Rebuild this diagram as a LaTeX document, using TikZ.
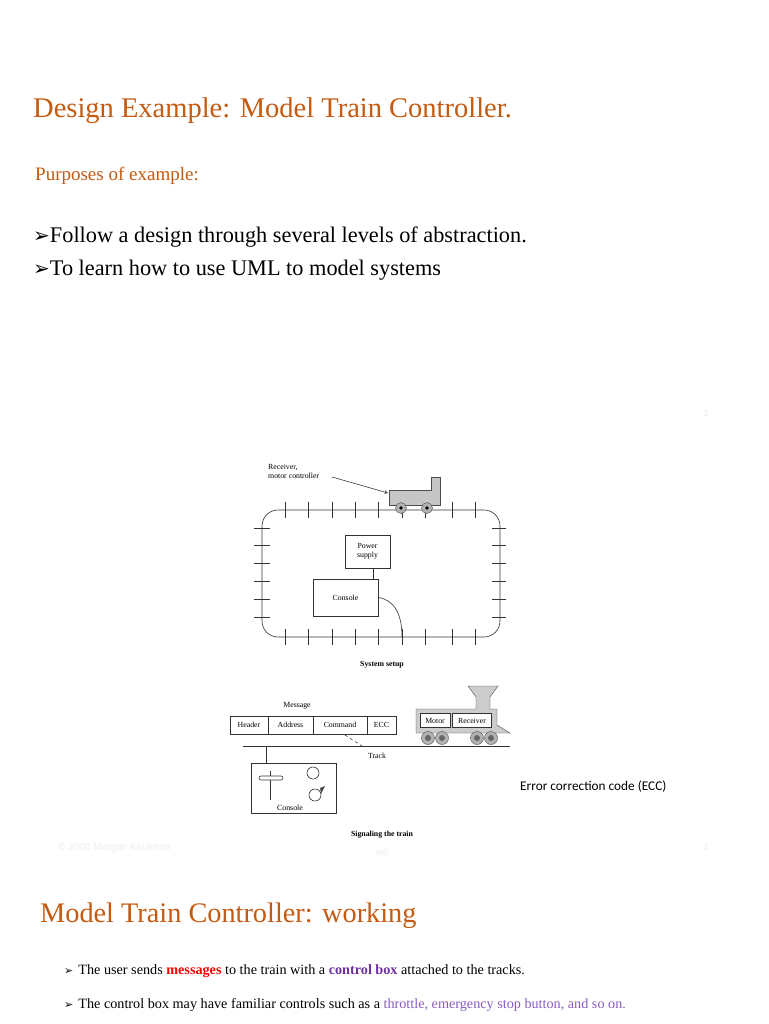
\documentclass[tikz,border=0pt]{standalone}
\usepackage{fontspec}
\setmainfont{Liberation Serif}
\newfontfamily\djv{DejaVu Sans}
\newfontfamily\carl{Carlito}
\newfontfamily\lasf{Liberation Sans}
\definecolor{org}{HTML}{C55A11}
\definecolor{purp}{HTML}{7030A0}
\definecolor{lpurp}{HTML}{8A5CC0}
\definecolor{wm}{HTML}{EEEEEE}
\tikzset{lbl/.style={inner sep=0pt,anchor=base west},
 fig/.style={draw=black!80,line width=0.6pt},
 fbox/.style={fig,fill=white,minimum width=0pt,inner sep=0pt},
 ftxt/.style={inner sep=0pt,font=\fontsize{7.8}{9}\selectfont}}
\begin{document}
\begin{tikzpicture}[x=1pt,y=-1pt]
\useasboundingbox (0,0) rectangle (768,1024);
\fill[white] (0,0) rectangle (768,1024);
\node[lbl,text=org,font=\fontsize{28.5}{31}\selectfont] (t1) at (33,118) {Design Example: Model Train Controller.};
\node[lbl,text=org,font=\fontsize{19}{21}\selectfont] (t2) at (35,181) {Purposes of example:};
\node[lbl,font=\fontsize{22.3}{25}\selectfont] (b1) at (33,243) {{\djv\fontsize{20}{22}\selectfont ➢}Follow a design through several levels of abstraction.};
\node[lbl,font=\fontsize{22.3}{25}\selectfont] (b2) at (33,275) {{\djv\fontsize{20}{22}\selectfont ➢}To learn how to use UML to model systems};
\node[lbl,text=wm,font=\lasf\fontsize{10}{12}\selectfont] (p1) at (703,416) {1};
% track
\draw[fig,rounded corners=16pt] (262,510) rectangle (500,637);
\foreach \x in {285,308,332,355,378,402,425,452,475}{
 \draw[fig] (\x,502) -- (\x,518);
 \draw[fig] (\x,629) -- (\x,645);}
\foreach \y in {528,545,563,581,599,617}{
 \draw[fig] (254,\y) -- (270,\y);
 \draw[fig] (492,\y) -- (506,\y);}
% train 1
\fill[gray!45,draw=black!70] (389,490) -- (431,490) -- (431,477) -- (440,477) -- (440,505) -- (389,505) -- cycle;
\foreach \x in {401,427}{\draw[fill=gray!60,draw=black!70] (\x,508) circle (5.5); \fill (\x,508) circle (1.8);}
\node[ftxt,anchor=base west,align=left] (rl) at (268,478) {Receiver,\\motor controller};
\coordinate (ra) at (332,477);
\coordinate (rb) at (388,493);
\draw[fig,-stealth] (ra) -- (rb);
\node[fbox,minimum width=45pt,minimum height=33pt,align=center,ftxt] (ps) at (367.5,551.5) {Power\\supply};
\node[fbox,minimum width=65pt,minimum height=37pt,ftxt] (co) at (345.5,597.5) {Console};
\draw[fig] (ps.south -| 373,0) -- (co.north -| 373,0);
\draw[fig] (co.east) .. controls (395,600) and (402,615) .. (402,637);
\node[ftxt,font=\bfseries\fontsize{7.8}{9}\selectfont] (ss) at (382,665) {System setup};
% signaling
\node[ftxt] (msg) at (297,706) {Message};
\node[fbox,ftxt,minimum width=38pt,minimum height=18pt] (h) at (249,725) {Header};
\node[fbox,ftxt,minimum width=45pt,minimum height=18pt] (a) at (290.5,725) {Address};
\node[fbox,ftxt,minimum width=54pt,minimum height=18pt] (c) at (340,725) {Command};
\node[fbox,ftxt,minimum width=29pt,minimum height=18pt] (e) at (381.5,725) {ECC};
\coordinate (tl) at (243,746); \coordinate (tr) at (510,746);
\draw[fig] (tl) -- (tr);
\coordinate (d1) at (345,735); \coordinate (d2) at (362,746);
\draw[fig,dashed] (d1) -- (d2);
\node[ftxt] (tk) at (377,756) {Track};
\draw[fig] (251,763) rectangle (336,813);
\coordinate (cl) at (266,746); \coordinate (cl2) at (266,763);
\draw[fig] (cl) -- (cl2);
\draw[fig] (270,771) -- (270,800);
\draw[fig,fill=white,rounded corners=2pt] (259,776) rectangle (283,780);
\draw[fig] (313,773) circle (6);
\draw[fig] (315,795) circle (6);
\fill[black!70] (320,788) -- (325,786) -- (321,794) -- cycle;
\node[ftxt] (cs2) at (290,808) {Console};
% loco
\fill[gray!40,draw=black!70] (468,686) -- (498,686) -- (490,697) -- (490,709) -- (497,709) -- (497,725) -- (510,733) -- (416,733) -- (416,709) -- (476,709) -- (476,697) -- cycle;
\node[fbox,ftxt,minimum width=30pt,minimum height=14pt] (mo) at (435,720.5) {Motor};
\node[fbox,ftxt,minimum width=39pt,minimum height=14pt] (re) at (472,720.5) {Receiver};
\foreach \x in {428,442,477,491}{\draw[fill=gray!60,draw=black!70] (\x,738) circle (6.5); \fill[gray!80!black] (\x,738) circle (3);}
\node[ftxt,font=\bfseries\fontsize{7.8}{9}\selectfont] (sg) at (382,835) {Signaling the train};
\node[ftxt,text=wm,font=\lasf\fontsize{10}{12}\selectfont] (ed) at (383,852) {ed.};
\node[lbl,text=wm,font=\lasf\fontsize{10}{12}\selectfont] (cp) at (58,850) {© 2000 Morgan Kaufman};
\node[lbl,text=wm,font=\lasf\fontsize{10}{12}\selectfont] (p2) at (703,850) {2};
\node[lbl,font=\carl\fontsize{13.3}{15}\selectfont] (ecc) at (520,790) {Error correction code (ECC)};
\node[lbl,text=org,font=\fontsize{28.3}{31}\selectfont] (t3) at (40,922) {Model Train Controller: working};
\node[lbl,font=\fontsize{14.2}{16}\selectfont] (c1) at (64,974) {{\djv\fontsize{11}{12}\selectfont ➢}\hspace{5pt}The user sends \textcolor{red}{\bfseries messages} to the train with a \textcolor{purp}{\bfseries control box} attached to the tracks.};
\node[lbl,font=\fontsize{14.2}{16}\selectfont] (c2) at (64,1008) {{\djv\fontsize{11}{12}\selectfont ➢}\hspace{5pt}The control box may have familiar controls such as a \textcolor{lpurp}{throttle, emergency stop button, and so on.}};
\end{tikzpicture}
\end{document}
